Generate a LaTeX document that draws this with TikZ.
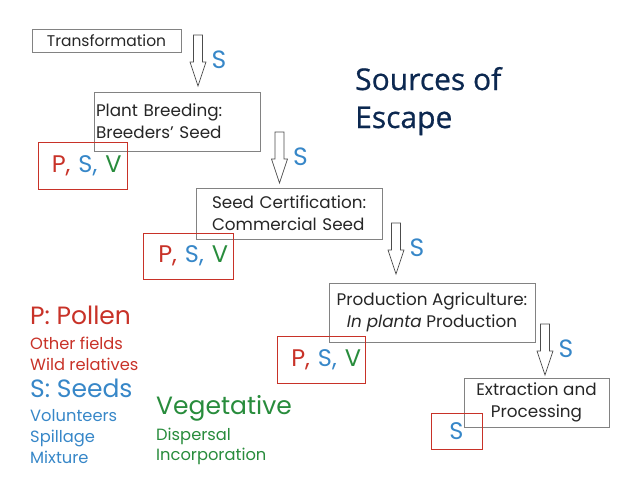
\documentclass[tikz,border=0pt]{standalone}
\usepackage{fontspec}
\setmainfont{Poppins}
\newfontfamily\titlefont[FakeBold=0.7]{Open Sans}
\usepackage{xcolor}
\usetikzlibrary{calc}
\definecolor{pollenred}{RGB}{200,50,40}
\definecolor{seedblue}{RGB}{55,135,200}
\definecolor{vegegreen}{RGB}{40,140,60}
\definecolor{boxgray}{RGB}{130,130,130}
\definecolor{titlenavy}{RGB}{12,40,80}

\begin{document}
\begin{tikzpicture}[x=1pt,y=-1pt,
    stagebox/.style={draw=boxgray, line width=0.8pt, inner sep=0pt, text=black!85,
      font=\fontsize{16.8}{22}\selectfont},
    escbox/.style={draw=pollenred, line width=1pt, inner sep=0pt,
      font=\fontsize{24}{26}\selectfont},
    flowarrow/.style={draw=black!70, line width=0.7pt, fill=white},
    slabel/.style={text=seedblue, font=\fontsize{25}{26}\selectfont},
    bigkey/.style={anchor=base west, inner sep=0pt, font=\fontsize{25}{28}\selectfont},
    smallkey/.style={anchor=base west, inner sep=0pt, font=\fontsize{16.3}{18}\selectfont}]
    \useasboundingbox (0,0) rectangle (638,493);
    % Stufen
    \node[stagebox, minimum width=149, minimum height=23, font=\fontsize{15.5}{18}\selectfont] (trans) at (106.5,40.5) {Transformation};
    \node[stagebox, minimum width=166, minimum height=59, text width=162, align=left] (breed) at (177,121.5)
        {Plant Breeding:\\Breeders' Seed};
    \node[stagebox, minimum width=186, minimum height=51, text width=170, align=left] (cert) at (289,213.5)
        {\hspace*{8pt}Seed Certification:\\\hspace*{8pt}Commercial Seed};
    \node[stagebox, minimum width=206, minimum height=59, align=center] (prod) at (432,312.5)
        {Production Agriculture:\\\textit{In planta} Production};
    \node[stagebox, minimum width=145, minimum height=49, align=center] (extr) at (536.5,402.5)
        {Extraction and\\Processing};
    % Fluchtwege
    \node[escbox, minimum width=89, minimum height=47, text width=78, align=right] (esc1) at (82.5,165.5)
        {\textcolor{pollenred}{P,} \textcolor{seedblue}{S,} \textcolor{vegegreen}{V}};
    \node[escbox, minimum width=90, minimum height=46, text width=80, align=right] (esc2) at (188,256)
        {\textcolor{pollenred}{P,} \textcolor{seedblue}{S,} \textcolor{vegegreen}{V}};
    \node[escbox, minimum width=88, minimum height=47, text width=80, align=right] (esc3) at (321,359.5)
        {\textcolor{pollenred}{P,} \textcolor{seedblue}{S,} \textcolor{vegegreen}{V}};
    \node[escbox, minimum width=51, minimum height=36, text=seedblue] (esc4) at (456.5,431) {S};
    % Pfeile
    \foreach \cx/\ty [count=\i] in {198/35, 279.5/132, 396/223, 545/324} {
        \draw[flowarrow] (\cx-4.5,\ty) -- (\cx+4.5,\ty) -- (\cx+4.5,\ty+27) -- (\cx+8,\ty+27)
            -- (\cx,\ty+51) -- (\cx-8,\ty+27) -- (\cx-4.5,\ty+27) -- cycle;
        \node[slabel] (s\i) at (\cx+21,\ty+25) {S};
    }
    % Titel
    \node[anchor=base west, inner sep=0pt, text=titlenavy, font=\titlefont\fontsize{30}{38}\selectfont,
        align=left] (title) at (355,128) {Sources of\\Escape};
    % Legende
    \node[bigkey, text=pollenred] (pollen) at (30,324) {P: Pollen};
    \node[smallkey, text=pollenred] (fields) at (30,349) {Other fields};
    \node[smallkey, text=pollenred] (wild) at (30,370) {Wild relatives};
    \node[bigkey, text=seedblue] (seeds) at (30,397) {S: Seeds};
    \node[smallkey, text=seedblue] (vol) at (30,421) {Volunteers};
    \node[smallkey, text=seedblue] (spill) at (30,442) {Spillage};
    \node[smallkey, text=seedblue] (mix) at (30,463) {Mixture};
    \node[bigkey, text=vegegreen] (veg) at (156,414) {Vegetative};
    \node[smallkey, text=vegegreen] (disp) at (156,440) {Dispersal};
    \node[smallkey, text=vegegreen] (incorp) at (156,460) {Incorporation};
\end{tikzpicture}
\end{document}
